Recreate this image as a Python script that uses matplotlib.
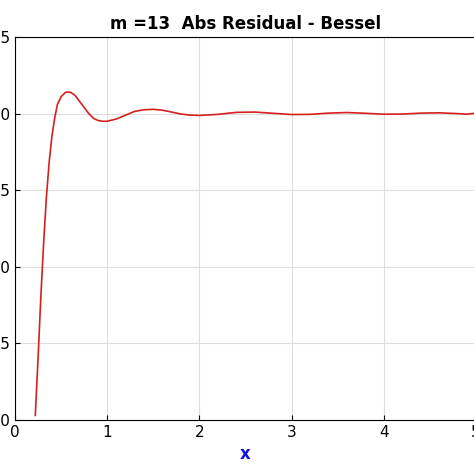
import matplotlib
matplotlib.use("Agg")
import matplotlib.pyplot as plt

# values
x_vals = [0.22, 0.25, 0.28, 0.31, 0.34, 0.37, 0.40, 0.43, 0.46, 0.50, 0.55, 0.60,
          0.65, 0.70, 0.75, 0.80, 0.85, 0.90, 0.95, 1.0, 1.1, 1.2, 1.3, 1.4, 1.5,
          1.6, 1.7, 1.8, 1.9, 2.0, 2.2, 2.4, 2.6, 2.8, 3.0, 3.2, 3.4, 3.6, 3.8,
          4.0, 4.2, 4.4, 4.6, 4.8, 4.9, 5.0]
y_vals = [-1.97, -1.6, -1.2, -0.85, -0.55, -0.32, -0.15, -0.03, 0.06, 0.11, 0.14, 0.14,
          0.12, 0.08, 0.04, 0.0, -0.03, -0.045, -0.05, -0.05, -0.035, -0.01, 0.015, 0.025, 0.028,
          0.022, 0.01, -0.003, -0.01, -0.012, -0.005, 0.008, 0.01, 0.002, -0.006, -0.005, 0.003, 0.007, 0.002,
          -0.004, -0.003, 0.003, 0.005, 0.0, -0.004, 0.003]

fig = plt.figure(figsize=(4.74, 4.74), dpi=100)
ax = fig.add_axes([15/474, 1 - 420/474, 461/474, 383/474])
ax.plot(x_vals, y_vals, color='#d42020', linewidth=1.2)
ax.set_xlim(0, 5)
ax.set_ylim(-2, 0.5)
ax.set_xticks([0, 1, 2, 3, 4, 5])
ax.set_xticklabels(['0', '1', '2', '3', '4', '5'])
ax.set_yticks([-2, -1.5, -1, -0.5, 0, 0.5])
ax.grid(True, color='#dddddd', linewidth=0.8)
ax.tick_params(labelsize=11, direction='in')
ax.set_title('m =13  Abs Residual - Bessel', fontsize=12, fontweight='bold')
ax.set_xlabel('x', color='#1010e0', fontsize=12, fontweight='bold')
fig.savefig('out.png', dpi=100)
